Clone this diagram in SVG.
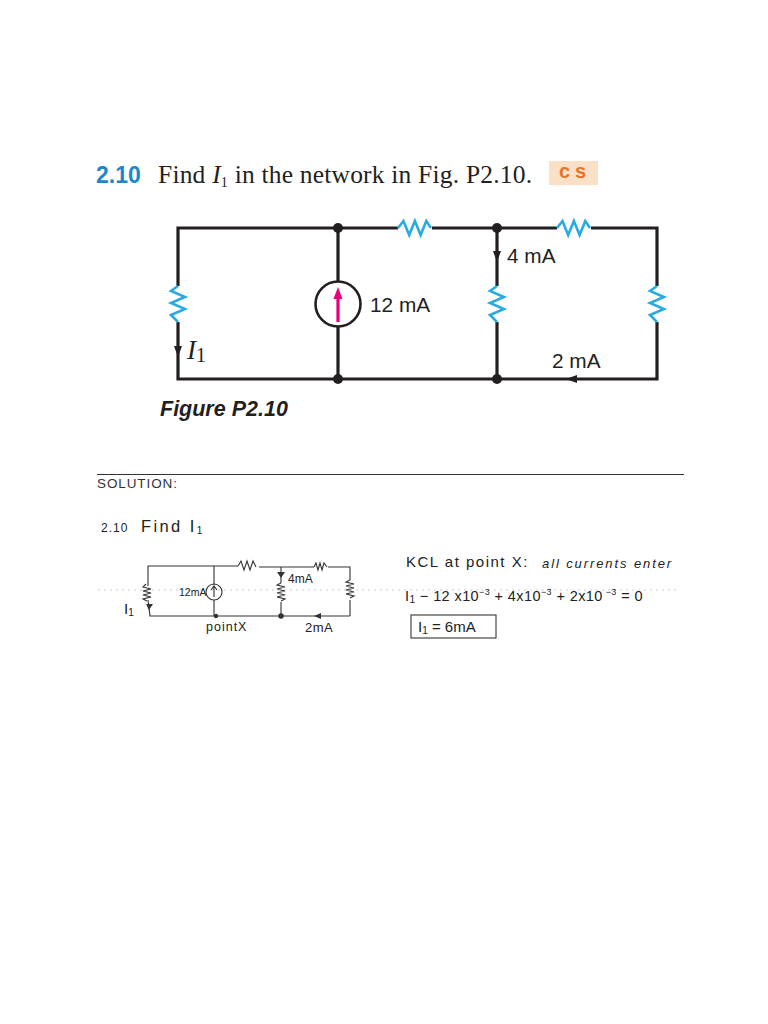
<svg xmlns="http://www.w3.org/2000/svg" width="768" height="1024" viewBox="0 0 768 1024">
<style>
.w{fill:none;stroke:#231f20;stroke-width:3.2;stroke-linejoin:miter}
.r{fill:none;stroke:#29abe2;stroke-width:2.6;stroke-linejoin:miter}
.d{fill:#231f20}
.l{font-family:"Liberation Sans",Arial,sans-serif;font-size:20.800px;fill:#231f20}
.s{font-family:"Liberation Serif","Times New Roman",serif;fill:#231f20}
.hw{fill:none;stroke:#333;stroke-width:1.1}
.h{font-family:"Liberation Sans",Arial,sans-serif;fill:#222;font-weight:300}
</style>
<rect width="768" height="1024" fill="#fff"/>
<g id="heading">
<text x="96" y="183" font-family="Liberation Sans,Arial,sans-serif" font-size="23" font-weight="700" fill="#1b87c9">2.10</text>
<text class="s" x="158" y="183" font-size="25.500" letter-spacing="0.200">Find <tspan font-style="italic">I</tspan><tspan font-size="14" dy="4">1</tspan><tspan dy="-4"> in the network in Fig. P2.10.</tspan></text>
<rect x="549" y="161" width="49" height="24" fill="#fbe0c8"/>
<text x="575" y="178" text-anchor="middle" font-family="Liberation Sans,Arial,sans-serif" font-size="20" font-weight="700" letter-spacing="5" fill="#e8742a">cs</text>
</g>
<g id="connectors">
<path class="w" d="M178 286V228H398M432 228H557M591 228H657V286M657 322V379H178V322"/>
<path class="w" d="M338 228V282M338 326V379M497 228V286M497 322V379"/>
</g>
<g id="R1"><path class="r" d="M398 228l5.500-7 5.700 14 5.700-14 5.700 14 5.700-14 4.700 7"/></g>
<g id="R2"><path class="r" d="M557 228l5.500-7 5.700 14 5.700-14 5.700 14 5.700-14 4.700 7"/></g>
<g id="R3"><path class="r" d="M178 286l-7 5 14 6-14 6 14 6-14 6 7 7"/></g>
<g id="R4"><path class="r" d="M497 286l-7 5 14 6-14 6 14 6-14 6 7 7"/></g>
<g id="R5"><path class="r" d="M657 286l-7 5 14 6-14 6 14 6-14 6 7 7"/></g>
<g id="source">
<circle cx="338" cy="304" r="22.500" fill="#fff" stroke="#231f20" stroke-width="2.600"/>
<path d="M338 322V296" stroke="#e6007e" stroke-width="3.200" fill="none"/>
<path d="M338 287l4.500 12h-9z" fill="#e6007e"/>
</g>
<g id="junctions">
<circle class="d" cx="338" cy="228" r="5"/><circle class="d" cx="497" cy="228" r="5"/>
<circle class="d" cx="338" cy="379" r="5"/><circle class="d" cx="497" cy="379" r="5"/>
</g>
<g id="arrows">
<path class="d" d="M497 262l-4-11h8z"/>
<path class="d" d="M178 357l-4-11h8z"/>
<path class="d" d="M566 379l11-4v8z"/>
</g>
<g id="labels">
<text class="l" x="507" y="263">4 mA</text>
<text class="l" x="370" y="312">12 mA</text>
<text class="l" x="552" y="368">2 mA</text>
<text class="s" x="187" y="359" font-size="27" font-style="italic">I<tspan font-size="20" font-style="normal" dy="3">1</tspan></text>
<text x="160" y="416" font-family="Liberation Sans,Arial,sans-serif" font-size="21.500" font-weight="700" font-style="italic" fill="#231f20">Figure P2.10</text>
</g>
<g id="solution">
<path d="M97 474.500H684" stroke="#333" stroke-width="1" fill="none"/>
<text x="97" y="488" font-family="Liberation Sans,Arial,sans-serif" font-size="13.500" letter-spacing="0.900" fill="#333">SOLUTION:</text>
<text class="h" x="101" y="532" font-size="12" letter-spacing="1">2.10</text>
<text class="h" x="141" y="532" font-size="16.500" letter-spacing="2.400">Find I<tspan font-size="10" dy="2">1</tspan></text>
</g>
<g id="sketch">
<path d="M98 590H680" stroke="#ccc" stroke-width="1" stroke-dasharray="2 4" fill="none"/>
<path class="hw" d="M148 586V566H238M259 567H314M328 567H350V580M350 600V616M281 567V583M281 602V615M148 600L150 616H350M214 566V585M214 600V616"/>
<path class="hw" d="M238 566l3-5 3 9 3-9 3 9 3-9 3 6"/>
<path class="hw" d="M314 567l2-4 2 7 2-7 2 7 2-7 3 4"/>
<path class="hw" d="M146 584l-3 3 8 2-8 2 8 2-8 2 8 2-8 2 4 2"/>
<path class="hw" d="M281 583l-4 2 8 2-8 2 8 2-8 2 8 2-8 2 8 2-4 2"/>
<path class="hw" d="M350 580l-4 2 8 2-8 2 8 2-8 2 8 2-8 2 8 2-4 2"/>
<circle class="hw" cx="214" cy="592" r="8"/>
<path class="hw" d="M214 597V587M211 590l3-4 3 4"/>
<path d="M149 610l-3-6h7zM281 578l-4-6h8zM314 616l7-3v6z" fill="#333"/>
<circle cx="216" cy="616" r="2.200" fill="#333"/><circle cx="281" cy="616" r="2.800" fill="#333"/>
<text class="h" x="179" y="596" font-size="10.500">12mA</text>
<text class="h" x="288" y="583" font-size="12">4mA</text>
<text class="h" x="124" y="614" font-size="15">I<tspan font-size="10" dy="2">1</tspan></text>
<text class="h" x="206" y="631" font-size="12.500" letter-spacing="1">pointX</text>
<text class="h" x="305" y="632" font-size="13" letter-spacing="0.500">2mA</text>
</g>
<g id="kcl">
<text class="h" x="406" y="567" font-size="15" letter-spacing="1.500">KCL at point X:</text>
<text class="h" x="542" y="568" font-size="13" letter-spacing="1.900" font-style="italic">all currents enter</text>
<text class="h" x="405" y="601" font-size="14.500" letter-spacing="0.400">I<tspan font-size="10" dy="2">1</tspan><tspan dy="-2"> − 12 x10</tspan><tspan font-size="9" dy="-6">−3</tspan><tspan dy="6"> + 4x10</tspan><tspan font-size="9" dy="-6">−3</tspan><tspan dy="6"> + 2x10</tspan><tspan font-size="9" dy="-6"> −3</tspan><tspan dy="6"> = 0</tspan></text>
<rect x="411" y="615" width="85" height="23" fill="none" stroke="#333" stroke-width="1.100"/>
<text class="h" x="418" y="632" font-size="15">I<tspan font-size="10" dy="2">1</tspan><tspan dy="-2"> = 6mA</tspan></text>
</g>
</svg>
